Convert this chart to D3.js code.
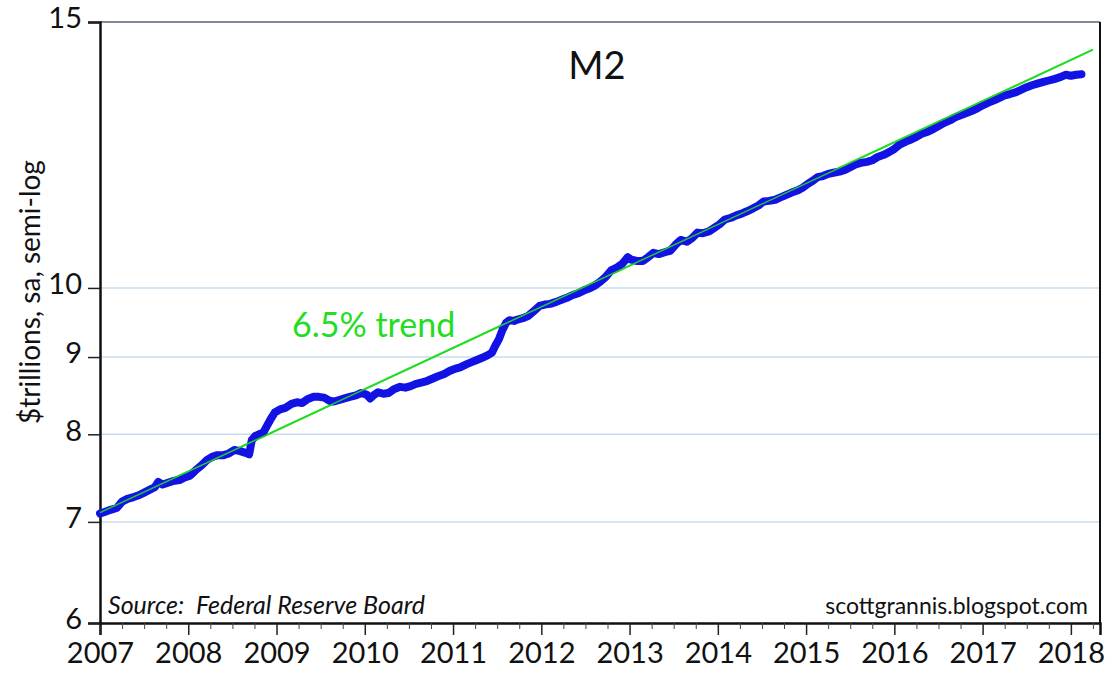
<!DOCTYPE html>
<html><head><meta charset="utf-8">
<script src="https://cdn.jsdelivr.net/npm/d3@7/dist/d3.min.js"></script>
<style>
html,body{margin:0;padding:0;background:#fff;}
svg{display:block;font-family:Lato,"Open Sans",sans-serif;}
</style></head>
<body><svg id="c" width="1116" height="680"></svg>
<script>
// ---- data (decimal years, $ trillions) ----
const dates = [2007.00,2007.06,2007.12,2007.19,2007.25,2007.31,2007.38,2007.44,2007.50,2007.56,2007.62,2007.66,2007.71,2007.77,2007.83,2007.90,2007.96,
2008.02,2008.08,2008.15,2008.21,2008.27,2008.33,2008.40,2008.46,2008.52,2008.58,2008.64,2008.69,2008.72,2008.76,2008.80,2008.85,2008.89,2008.93,2008.98,
2009.04,2009.10,2009.17,2009.23,2009.29,2009.35,2009.42,2009.48,2009.54,2009.60,2009.65,2009.71,2009.77,2009.83,2009.90,2009.96,
2010.02,2010.06,2010.10,2010.15,2010.21,2010.27,2010.33,2010.40,2010.46,2010.52,2010.58,2010.65,2010.71,2010.77,2010.83,2010.90,2010.96,
2011.02,2011.08,2011.15,2011.21,2011.27,2011.33,2011.40,2011.44,2011.48,2011.52,2011.56,2011.60,2011.64,2011.69,2011.73,2011.79,2011.85,2011.92,2011.98,
2012.04,2012.10,2012.17,2012.23,2012.29,2012.35,2012.42,2012.48,2012.54,2012.60,2012.67,2012.73,2012.79,2012.85,2012.92,2012.98,
2013.02,2013.08,2013.15,2013.21,2013.27,2013.33,2013.40,2013.46,2013.52,2013.58,2013.65,2013.71,2013.77,2013.83,2013.90,2013.96,
2014.02,2014.08,2014.15,2014.21,2014.27,2014.33,2014.40,2014.46,2014.52,2014.58,2014.65,2014.71,2014.77,2014.83,2014.90,2014.96,
2015.02,2015.08,2015.13,2015.19,2015.25,2015.31,2015.38,2015.44,2015.50,2015.56,2015.62,2015.69,2015.75,2015.81,2015.88,2015.94,
2016.00,2016.06,2016.13,2016.19,2016.25,2016.31,2016.38,2016.44,2016.50,2016.56,2016.63,2016.69,2016.75,2016.81,2016.88,2016.94,
2017.00,2017.06,2017.13,2017.19,2017.25,2017.31,2017.38,2017.44,2017.50,2017.56,2017.63,2017.69,2017.75,2017.81,2017.88,2017.94,
2018.00,2018.06,2018.12];
const m2 = [7.09,7.11,7.13,7.15,7.22,7.25,7.27,7.29,7.32,7.35,7.38,7.44,7.41,7.43,7.45,7.46,7.49,
7.51,7.57,7.63,7.69,7.73,7.75,7.75,7.77,7.81,7.80,7.78,7.76,7.93,7.98,8.00,8.02,8.10,8.18,8.27,
8.31,8.33,8.38,8.40,8.39,8.44,8.47,8.47,8.46,8.42,8.41,8.43,8.45,8.47,8.49,8.52,
8.50,8.45,8.49,8.53,8.51,8.52,8.57,8.60,8.59,8.61,8.64,8.66,8.68,8.71,8.74,8.77,8.81,
8.84,8.86,8.90,8.93,8.96,8.99,9.03,9.06,9.16,9.25,9.38,9.48,9.52,9.51,9.53,9.55,9.58,9.66,9.73,
9.75,9.76,9.79,9.82,9.85,9.89,9.92,9.96,9.99,10.03,10.10,10.17,10.27,10.31,10.38,10.48,
10.44,10.42,10.42,10.48,10.55,10.53,10.56,10.58,10.68,10.76,10.73,10.79,10.88,10.87,10.90,10.96,
11.02,11.10,11.13,11.17,11.20,11.24,11.29,11.34,11.41,11.42,11.44,11.48,11.52,11.56,11.60,11.65,
11.72,11.78,11.84,11.86,11.90,11.92,11.94,11.97,12.02,12.07,12.10,12.12,12.15,12.21,12.25,12.30,
12.36,12.44,12.50,12.54,12.59,12.65,12.69,12.74,12.80,12.86,12.91,12.97,13.01,13.05,13.10,13.15,
13.21,13.26,13.31,13.36,13.41,13.44,13.48,13.53,13.58,13.62,13.66,13.69,13.72,13.75,13.79,13.84,
13.82,13.84,13.85];
const trendDates = [2007.00, 2018.25];
const trendValues = [7.10, 14.38];
const yTicks = [6,7,8,9,10,15];
const gridValues = [7,8,9,10];
const yearTicks = [2007,2008,2009,2010,2011,2012,2013,2014,2015,2016,2017,2018];

// ---- layout ----
const L=100, R=1100, T=22, B=623;
const svg = d3.select("#c");
const x = d3.scaleLinear().domain([2007, 2018.33]).range([L, R]);
const y = d3.scaleLog().domain([6, 15]).range([B, T]);

// gridlines
svg.append("g").selectAll("line").data(gridValues).join("line")
  .attr("x1", L).attr("x2", R).attr("y1", d=>y(d)).attr("y2", d=>y(d))
  .attr("stroke", "#c9dcef").attr("stroke-width", 1.5);

// frame: top & right
svg.append("line").attr("x1",L).attr("x2",R).attr("y1",T).attr("y2",T).attr("stroke","#7d8a99").attr("stroke-width",2);
svg.append("line").attr("x1",R).attr("x2",R).attr("y1",T).attr("y2",B).attr("stroke","#111").attr("stroke-width",2);

// x axis
const minorTicks = d3.range(2007, 2018.33, 0.25).filter(d => Math.abs(d - Math.round(d)) > 0.01);
const xAxis = d3.axisBottom(x).tickValues(yearTicks).tickFormat(d3.format("d")).tickSize(12).tickPadding(7);
const gx = svg.append("g").attr("transform",`translate(0,${B})`).call(xAxis);
gx.select(".domain").attr("stroke","#111").attr("stroke-width",2.5);
gx.selectAll(".tick line").attr("stroke","#222").attr("stroke-width",1.5);
gx.selectAll(".tick text").attr("font-size",29).attr("fill","#111").attr("font-family","Lato,'Open Sans',sans-serif");
const xMinor = d3.axisBottom(x).tickValues(minorTicks).tickSize(6).tickFormat("");
const gxm = svg.append("g").attr("transform",`translate(0,${B})`).call(xMinor);
gxm.select(".domain").remove();
gxm.selectAll(".tick line").attr("stroke","#444").attr("stroke-width",1);

// y axis
const yAxis = d3.axisLeft(y).tickValues(yTicks).tickFormat(d3.format("d")).tickSize(12).tickPadding(6);
const gy = svg.append("g").attr("transform",`translate(${L},0)`).call(yAxis);
gy.select(".domain").attr("stroke","#111").attr("stroke-width",2.5);
gy.selectAll(".tick line").attr("stroke","#222").attr("stroke-width",1.5);
gy.selectAll(".tick text").attr("font-size",29).attr("fill","#111").attr("dy","0.2em")
  .attr("font-family","Lato,'Open Sans',sans-serif");

// trend line
const line = d3.line().x(d=>x(d[0])).y(d=>y(d[1]));
svg.append("path").datum(d3.zip(trendDates, trendValues)).attr("d", line)
  .attr("fill","none").attr("stroke","#22dd22").attr("stroke-width",2);

// M2 line
svg.append("path").datum(d3.zip(dates, m2)).attr("d", line)
  .attr("fill","none").attr("stroke","#1212e4").attr("stroke-width",8)
  .attr("stroke-linejoin","round").attr("stroke-linecap","round");
// trend drawn again on top, thin
svg.append("path").datum(d3.zip(trendDates, trendValues)).attr("d", line)
  .attr("fill","none").attr("stroke","#22dd22").attr("stroke-width",1.5).attr("opacity",0.9);

// texts
svg.append("text").attr("x",597).attr("y",79).attr("text-anchor","middle")
  .attr("font-size",38).attr("fill","#111").text("M2");
svg.append("text").attr("x",292).attr("y",337).attr("font-size",34).attr("fill","#22dd22").text("6.5% trend");
svg.append("text").attr("transform","translate(40,292) rotate(-90)").attr("text-anchor","middle")
  .attr("font-size",28).attr("fill","#111").text("$trillions, sa, semi-log");
svg.append("text").attr("x",108).attr("y",614).attr("font-size",25).attr("font-style","italic")
  .attr("fill","#111").attr("xml:space","preserve").text("Source:  Federal Reserve Board");
svg.append("text").attr("x",1088).attr("y",614).attr("text-anchor","end").attr("font-size",23)
  .attr("fill","#111").text("scottgrannis.blogspot.com");
</script></body></html>
